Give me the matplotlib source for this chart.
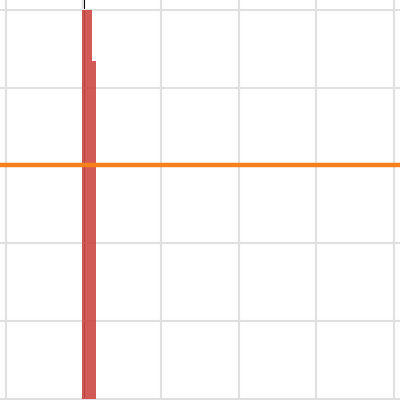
import matplotlib
matplotlib.use("Agg")
import matplotlib.pyplot as plt

# bar edges and heights (one grid square = 1 unit)
bar_left = [-0.015, 0.115]
bar_width = [0.13, 0.05]
bar_height = [5.0, 4.34]
level = 3.0
grid_x = [-1, 0, 1, 2, 3, 4]
grid_y = [0, 1, 2, 3, 4, 5]


def main():
    fig = plt.figure(figsize=(4, 4), dpi=100)
    ax = fig.add_axes([0, 0, 1, 1])
    ax.set_xlim(-1.071, 4.077)
    ax.set_ylim(-0.019, 5.129)
    ax.set_xticks(grid_x)
    ax.set_yticks(grid_y)
    ax.tick_params(length=0, labelbottom=False, labelleft=False)
    ax.grid(True, color="#e0e0e0", linewidth=1.5, zorder=0)
    for side in ax.spines.values():
        side.set_visible(False)

    ax.axvline(-0.005, color="black", linewidth=2.2, zorder=1)
    ax.bar(bar_left, bar_height, width=bar_width, align="edge",
           color="#cc4843", alpha=0.9, linewidth=0, zorder=2)
    ax.axhline(level, color="#f7801a", linewidth=3.2, zorder=3)

    fig.savefig("out.png", dpi=100)


if __name__ == '__main__':
    main()
